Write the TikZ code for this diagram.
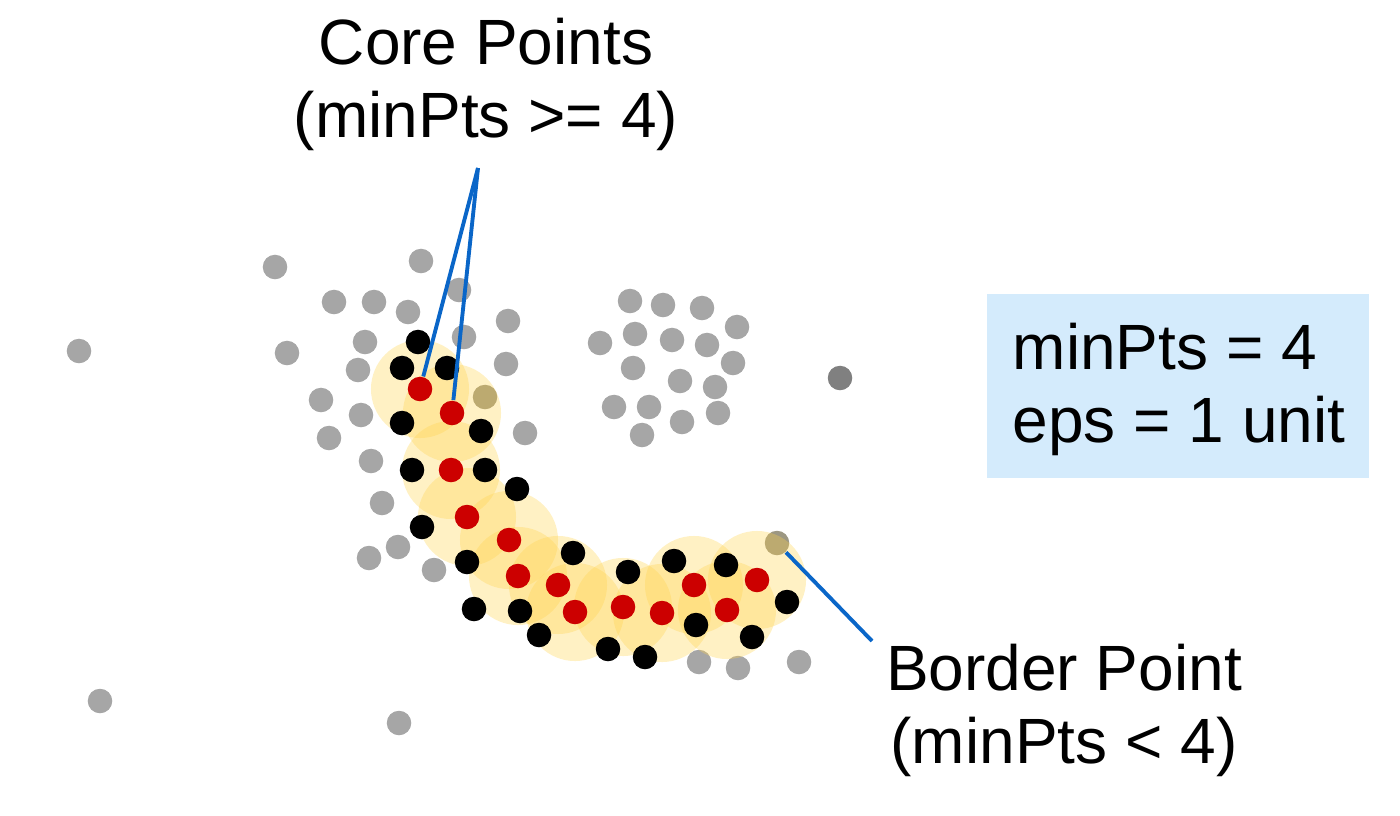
\documentclass[tikz,border=0pt]{standalone}
\usepackage{fontspec}
\setmainfont{Liberation Sans}
\usetikzlibrary{calc}

\definecolor{ptgrey}{HTML}{A6A6A6}
\definecolor{ptdark}{HTML}{808080}
\definecolor{ptolive}{HTML}{9C9782}
\definecolor{ptred}{HTML}{CC0000}
\definecolor{epsyellow}{HTML}{FFD34D}
\definecolor{pointerblue}{HTML}{0A66C8}
\definecolor{boxblue}{HTML}{D4EBFC}

\begin{document}
\begin{tikzpicture}[x=0.01cm,y=-0.01cm,
    pt/.style={circle,inner sep=0pt,minimum size=0.245cm},
    greypt/.style={pt,fill=ptgrey},
    edgept/.style={pt,fill=black},
    corept/.style={pt,fill=ptred},
    epsball/.style={circle,inner sep=0pt,minimum size=0.98cm,fill=epsyellow,fill opacity=0.33},
    pointer/.style={draw=pointerblue,line width=1.1pt},
    lbl/.style={font=\fontsize{18.2}{20.5}\selectfont,align=center,inner sep=0pt}]
    \useasboundingbox (0,0) rectangle (1400,815);

    % noise points
    \foreach \p [count=\i] in {(275,267),(421,261),(334,302),(374,302),(408,312),(459,290),
        (508,321),(79,351),(287,353),(365,342),(464,337),(506,364),(358,370),(321,400),
        (361,415),(329,438),(525,433),(371,461),(382,503),(398,547),(369,558),(434,570),
        (100,701),(399,723),(699,662),(738,668),(799,662),
        (630,301),(663,305),(702,308),(737,327),(600,343),(635,334),(672,340),(707,345),
        (733,363),(633,368),(680,381),(715,387),(614,407),(649,407),(682,422),(718,413),(642,435)}
        \node[greypt] (g\i) at \p {};
    \draw (840,378) node[pt,fill=ptdark] (far) {};
    \draw (485,397) node[pt,fill=ptolive] (o1) {};
    \draw (777,543) node[pt,fill=ptolive] (o2) {};

    % eps neighbourhoods
    \foreach \p [count=\i] in {(420,389),(452,413),(451,470),(467,517),(509,540),(518,576),
        (558,585),(575,612),(623,607),(662,613),(694,585),(727,610),(757,580)}
        \node[epsball] (e\i) at \p {};

    % cluster points
    \foreach \p [count=\i] in {(418,342),(402,368),(447,368),(402,423),(481,431),(412,470),
        (485,470),(517,489),(422,527),(467,562),(573,553),(474,609),(520,611),(539,635),
        (608,649),(628,572),(645,657),(674,561),(726,565),(696,625),(787,602),(752,637)}
        \node[edgept] (b\i) at \p {};

    % core points
    \draw (420,389) node[corept] (c1) {};
    \draw (452,413) node[corept] (c2) {};
    \draw (451,470) node[corept] (c3) {};
    \draw (467,517) node[corept] (c4) {};
    \draw (509,540) node[corept] (c5) {};
    \draw (518,576) node[corept] (c6) {};
    \draw (558,585) node[corept] (c7) {};
    \draw (575,612) node[corept] (c8) {};
    \draw (623,607) node[corept] (c9) {};
    \draw (662,613) node[corept] (c10) {};
    \draw (694,585) node[corept] (c11) {};
    \draw (727,610) node[corept] (c12) {};
    \draw (757,580) node[corept] (c13) {};

    % labels
    \node[lbl,anchor=base] (corelbl) at (486,137) {Core Points\\(minPts >= 4)};
    \node[lbl,anchor=base] (borderlbl) at (1064,763) {Border Point\\(minPts < 4)};
    \node[fill=boxblue,inner sep=0pt,minimum width=3.82cm,minimum height=1.84cm] (pbox) at (1178,386) {};
    \node[lbl,align=left,anchor=base west] (ptxt) at (1012,442) {minPts = 4\\eps = 1 unit};

    \coordinate (coretip) at (478,168);
    \coordinate (bordertip) at (872,641);
    \path[pointer] (coretip) edge (c1)
                   (coretip) edge (c2)
                   (o2) edge (bordertip);
\end{tikzpicture}
\end{document}
